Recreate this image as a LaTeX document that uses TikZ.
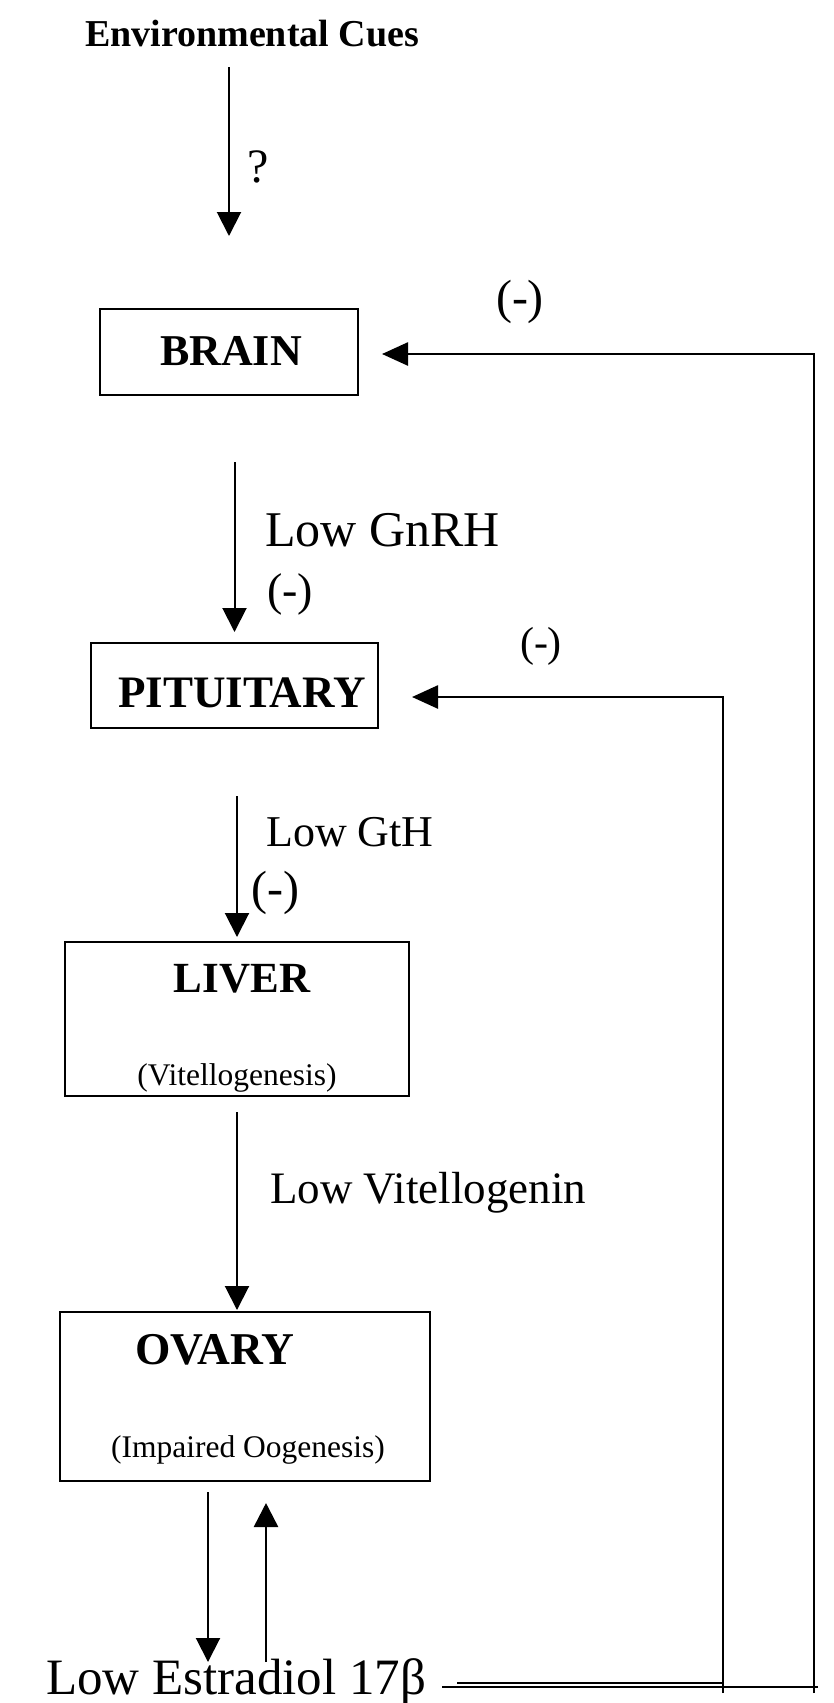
\documentclass[tikz,border=0pt]{standalone}
\usepackage{fontspec}
\setmainfont{Liberation Serif}
\usepackage{tikz}
\usetikzlibrary{positioning, arrows.meta}
\newcommand{\fsz}[1]{\fontsize{#1}{#1}\selectfont}

\begin{document}
\begin{tikzpicture}[x=1pt, y=-1pt,
                    box/.style={draw, line width=2pt, inner sep=0pt},
                    lbl/.style={inner sep=0pt, anchor=base},
                    lblw/.style={inner sep=0pt, anchor=base west},
                    arr/.style={line width=2pt, -{Triangle[length=24pt,width=24pt]}},
                    fb/.style={line width=2.6pt}]
                            \useasboundingbox (0,0) rectangle (834,1703);
                            % boxes
                            \node[box, minimum width=258pt, minimum height=86pt] (brain) at (229,352) {};
                            \node[box, minimum width=287pt, minimum height=85pt] (pit) at (234.5,685.5) {};
                            \node[box, minimum width=344pt, minimum height=154pt] (liver) at (237,1019) {};
                            \node[box, minimum width=370pt, minimum height=169pt] (ovary) at (245,1396.5) {};
                            % texts
                            \node[lbl, font=\bfseries\fsz{38}] (env) at (252,46) {Environmental Cues};
                            \node[lbl, font=\fsz{48}] (q) at (258,182) {?};
                            \node[lbl, font=\fsz{48}] (negBrain) at (520,313) {(-)};
                            \node[lbl, font=\bfseries\fsz{44}] (brainTxt) at (231,365) {BRAIN};
                            \node[lblw, font=\fsz{50}] (gnrh) at (265,546) {Low GnRH};
                            \node[lblw, font=\fsz{46}] (negGnrh) at (267,605) {(-)};
                            \node[lbl, font=\fsz{42}] (negPit) at (541,656) {(-)};
                            \node[lbl, font=\bfseries\fsz{45}] (pitTxt) at (242,707) {PITUITARY};
                            \node[lblw, font=\fsz{44}] (gth) at (266,846) {Low GtH};
                            \node[lblw, font=\fsz{48}] (negGth) at (251,904) {(-)};
                            \node[lbl, font=\bfseries\fsz{43}] (liverTxt) at (242,992) {LIVER};
                            \node[lbl, font=\fsz{31.5}] (vitTxt) at (237,1085) {(Vitellogenesis)};
                            \node[lblw, font=\fsz{45}] (vtg) at (270,1203) {Low Vitellogenin};
                            \node[lbl, font=\bfseries\fsz{45.5}] (ovaryTxt) at (215,1364) {OVARY};
                            \node[lbl, font=\fsz{31.5}] (oogTxt) at (248,1457) {(Impaired Oogenesis)};
                            \node[lblw, font=\fsz{51}] (est) at (46,1694) {Low Estradiol 17β};
                            % main axis
                            \draw[arr, shorten <=21pt, shorten >=72pt] (brain.north |- env.base) -- (brain.north);
                            \draw[arr, shorten <=66pt, shorten >=10pt] (pit.north |- brain.south) -- (pit.north);
                            \draw[arr, shorten <=67pt, shorten >=4pt] (liver.north |- pit.south) -- (liver.north);
                            \draw[arr, shorten <=15pt, shorten >=1pt] (liver.south) -- (liver.south |- ovary.north);
                            \draw[arr, shorten <=10pt, shorten >=32pt] ([xshift=-37pt]ovary.south) -- ([xshift=-37pt]ovary.south |- est.base);
                            \draw[arr, line width=2.6pt, shorten <=32pt, shorten >=21pt] ([xshift=21pt]ovary.south |- est.base) -- ([xshift=21pt]ovary.south);
                            % feedback loops
                            \coordinate (outerB) at (442,1687);
                            \coordinate (outerC) at (814,1693);
                            \coordinate (innerB) at (457,1683);
                            \coordinate (innerC) at (723,1693);
                            \draw[fb] (outerB) -- ([xshift=4pt]outerB -| outerC);
                            \draw[fb] (innerB) -- (innerB -| innerC);
                            \draw[fb, -{Triangle[length=26pt,width=23pt]}, shorten >=23pt] (outerC) |- ([yshift=-2pt]brain.east);
                            \draw[fb, -{Triangle[length=26pt,width=23pt]}, shorten >=33pt] (innerC) |- ([yshift=-11.5pt]pit.east);
                        \end{tikzpicture}
\end{document}
